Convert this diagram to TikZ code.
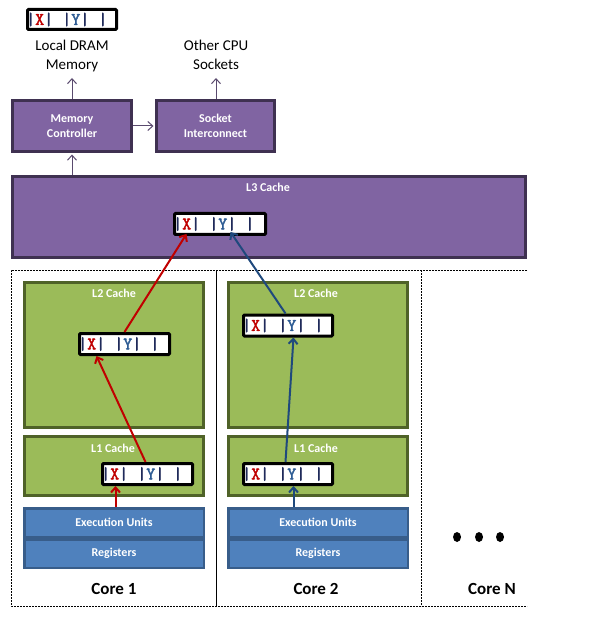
\documentclass[tikz,border=0pt]{standalone}
\usepackage{fontspec}
\setmainfont{Carlito}
\newfontfamily\bufmono{Latin Modern Mono}[FakeBold=2]
\usetikzlibrary{arrows.meta,calc}
\definecolor{purfill}{HTML}{8064A2}
\definecolor{purline}{HTML}{3F3151}
\definecolor{grnfill}{HTML}{9BBB59}
\definecolor{grnline}{HTML}{4F6228}
\definecolor{blufill}{HTML}{4F81BD}
\definecolor{bluline}{HTML}{385D8A}
\definecolor{xred}{HTML}{C00000}
\definecolor{yblue}{HTML}{2E5C94}
\definecolor{pipec}{HTML}{1F2A5A}
\definecolor{arrred}{HTML}{C00000}
\definecolor{arrblu}{HTML}{1F497D}
\definecolor{thinarr}{HTML}{5A4A6E}
\newcommand\bufcontent{\textcolor{pipec}{|}\textcolor{xred}{X}\textcolor{pipec}{|}\ \textcolor{pipec}{|}\textcolor{yblue}{Y}\textcolor{pipec}{|}\ \textcolor{pipec}{|}}
\begin{document}
\begin{tikzpicture}[x=1pt,y=-1pt,
  pbox/.style={draw=purline, fill=purfill, line width=3pt, inner sep=0pt, text=white,
    font=\bfseries\fontsize{12}{15.5}\selectfont, align=center},
  gbox/.style={draw=grnline, fill=grnfill, line width=3pt, inner sep=0pt},
  bbox/.style={draw=bluline, fill=blufill, line width=2.5pt, inner sep=0pt, text=white,
    font=\bfseries\fontsize{12}{15}\selectfont},
  boxlbl/.style={text=white, inner sep=0pt, font=\bfseries\fontsize{12}{15}\selectfont},
  buf/.style={draw=black, fill=white, line width=3pt, rounded corners=1pt, inner sep=0pt},
  buft/.style={anchor=west, inner sep=0pt, font=\bufmono\fontsize{17.5}{17.5}\selectfont},
  toptext/.style={align=center, inner sep=0pt, font=\fontsize{15}{19}\selectfont},
  corelbl/.style={inner sep=0pt, font=\bfseries\fontsize{17}{20}\selectfont},
  thin/.style={draw=thinarr, line width=1pt, -{Straight Barb[length=5pt,width=9pt]}},
  redarr/.style={draw=arrred, line width=2pt, -{Straight Barb[length=5pt,width=9pt]}},
  bluarr/.style={draw=arrblu, line width=2pt, -{Straight Barb[length=5pt,width=9pt]}},
  frame/.style={line width=0.8pt, dash pattern=on 2pt off 1pt}
]
\useasboundingbox (0,0) rectangle (597,617);

% top memory buffer and labels
\node[buf, minimum width=89pt, minimum height=20pt] (dram) at (72,19.5) {};
\node[buft] (dramt) at ([xshift=0pt]dram.west) {\bufcontent};
\node[toptext, anchor=base] (dramlbl) at (72,69.5) {Local DRAM\\Memory};
\node[toptext, anchor=base] (otherlbl) at (216,69.5) {Other CPU\\Sockets};

% memory controller and socket interconnect
\node[pbox, minimum width=119pt, minimum height=51pt] (mc) at (72,126) {Memory\\Controller};
\node[pbox, minimum width=118pt, minimum height=51pt] (si) at (215.5,126) {Socket\\Interconnect};

% L3
\node[pbox, minimum width=513pt, minimum height=81pt] (l3) at (269,217) {};
\node[boxlbl] (l3t) at (268,187) {L3 Cache};
\node[buf, minimum width=91pt, minimum height=21pt] (l3b) at (220,224) {};
\node[buft] (l3bt) at ([xshift=0pt]l3b.west) {\bufcontent};

% thin arrows
\coordinate (dramtip) at (72,78);
\coordinate (othertip) at (216,78);
\draw[thin] (mc.north) -- (dramtip);
\draw[thin] (si.north -| othertip) -- (othertip);
\draw[thin] (mc.east) -- ([xshift=-1.5pt]si.west);
\draw[thin] (l3.north -| mc.south) -- ([yshift=-1.5pt]mc.south);

% frame of cores
\coordinate (ftl) at (11,270);
\coordinate (ftr) at (527,270);
\coordinate (fbl) at (11,606);
\coordinate (fbr) at (527,606);
\draw[frame] (ftr) -- (ftl) -- (fbl) -- (fbr);
\draw[line width=0.8pt] (216,270) -- (216,606);
\draw[frame] (421,270) -- (421,606);

% core 1
\node[gbox, minimum width=179pt, minimum height=145pt] (c1l2) at (114,355) {};
\node[boxlbl] (c1l2t) at (114,293) {L2 Cache};
\node[buf, minimum width=90pt, minimum height=21pt] (c1l2b) at (124.5,344) {};
\node[buft] (c1l2bt) at ([xshift=0pt]c1l2b.west) {\bufcontent};
\node[gbox, minimum width=179pt, minimum height=59pt] (c1l1) at (114,466) {};
\node[boxlbl] (c1l1t) at (113,448) {L1 Cache};
\node[buf, minimum width=90pt, minimum height=21pt] (c1l1b) at (147.5,474) {};
\node[buft] (c1l1bt) at ([xshift=0pt]c1l1b.west) {\bufcontent};
\node[bbox, minimum width=179.5pt, minimum height=28.5pt] (c1eu) at (114,522.5) {Execution Units};
\node[bbox, minimum width=179.5pt, minimum height=28.5pt] (c1rg) at (114,553.5) {Registers};
\node[corelbl] (c1t) at (114,589) {Core 1};

% core 2
\node[gbox, minimum width=179pt, minimum height=145pt] (c2l2) at (318,355) {};
\node[boxlbl] (c2l2t) at (316,293) {L2 Cache};
\node[buf, minimum width=89pt, minimum height=21pt] (c2l2b) at (288,325.5) {};
\node[buft] (c2l2bt) at ([xshift=0pt]c2l2b.west) {\bufcontent};
\node[gbox, minimum width=179pt, minimum height=59pt] (c2l1) at (318,466) {};
\node[boxlbl] (c2l1t) at (316,448) {L1 Cache};
\node[buf, minimum width=89pt, minimum height=21pt] (c2l1b) at (288,474) {};
\node[buft] (c2l1bt) at ([xshift=0pt]c2l1b.west) {\bufcontent};
\node[bbox, minimum width=179.5pt, minimum height=28.5pt] (c2eu) at (318,522.5) {Execution Units};
\node[bbox, minimum width=179.5pt, minimum height=28.5pt] (c2rg) at (318,553.5) {Registers};
\node[corelbl] (c2t) at (316,589) {Core 2};

% core N
\fill (457,537) ellipse (4pt and 5pt);
\fill (479,537) ellipse (4pt and 5pt);
\fill (500,537) ellipse (4pt and 5pt);
\node[corelbl] (cnt) at (492,589) {Core N};

% data path arrows, core 1 (red)
\coordinate (r1e) at ($(c1l1b.south west)+(14.5,0)$);
\coordinate (r2s) at ($(c1l1b.north west)+(44.5,0)$);
\coordinate (r2e) at ($(c1l2b.south west)+(18.5,0)$);
\coordinate (r3s) at ($(c1l2b.north west)+(46.5,0)$);
\coordinate (r3e) at ($(l3b.south west)+(13.5,-2)$);
\draw[redarr] (c1eu.north -| r1e) -- (r1e);
\draw[redarr] (r2s) -- (r2e);
\draw[redarr] (r3s) -- (r3e);

% data path arrows, core 2 (blue)
\coordinate (b1e) at ($(c2l1b.south west)+(51.5,0)$);
\coordinate (b2s) at ($(c2l1b.north west)+(43.5,0)$);
\coordinate (b2e) at ($(c2l2b.south west)+(51.5,0)$);
\coordinate (b3s) at ($(c2l2b.north west)+(43.5,0)$);
\coordinate (b3e) at ($(l3b.south west)+(57.5,-4)$);
\draw[bluarr] (c2eu.north -| b1e) -- (b1e);
\draw[bluarr] (b2s) -- (b2e);
\draw[bluarr] (b3s) -- (b3e);
\end{tikzpicture}
\end{document}
